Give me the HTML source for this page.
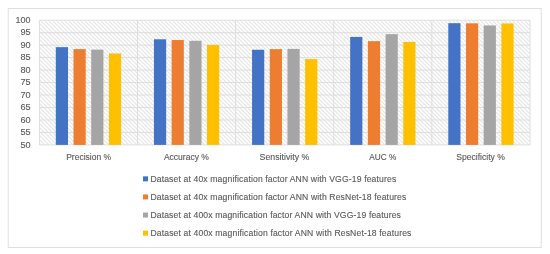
<!DOCTYPE html><html><head><meta charset="utf-8"><style>html,body{margin:0;padding:0;background:#fff;width:550px;height:254px;overflow:hidden}svg{display:block}text{font-family:"Liberation Sans",Arial,sans-serif;fill:#595959;stroke:#595959;stroke-width:0.12px}</style></head><body>
<svg width="550" height="254" viewBox="0 0 550 254">
<defs><filter id="b" x="-0.02" y="-0.02" width="1.04" height="1.04"><feGaussianBlur stdDeviation="0.45"/></filter><pattern id="h" width="4" height="4" patternUnits="userSpaceOnUse"><rect width="4" height="4" fill="#fff"/><path d="M-1,-1 L5,5 M-1,3 L1,5 M3,-1 L5,1" stroke="#e6e6e6" stroke-width="1.15"/></pattern></defs>
<rect x="8.2" y="8.5" width="533" height="239" fill="#fff" stroke="#dedede" stroke-width="1"/>
<g filter="url(#b)">
<rect x="38.4" y="19.2" width="492.60" height="126.70" fill="#fff"/>
<rect x="39.4" y="20.2" width="490.60" height="124.70" fill="url(#h)"/>
<line x1="39.4" x2="530.0" y1="20.20" y2="20.20" stroke="#dedede" stroke-width="1"/>
<line x1="39.4" x2="530.0" y1="32.67" y2="32.67" stroke="#dedede" stroke-width="1"/>
<line x1="39.4" x2="530.0" y1="45.14" y2="45.14" stroke="#dedede" stroke-width="1"/>
<line x1="39.4" x2="530.0" y1="57.61" y2="57.61" stroke="#dedede" stroke-width="1"/>
<line x1="39.4" x2="530.0" y1="70.08" y2="70.08" stroke="#dedede" stroke-width="1"/>
<line x1="39.4" x2="530.0" y1="82.55" y2="82.55" stroke="#dedede" stroke-width="1"/>
<line x1="39.4" x2="530.0" y1="95.02" y2="95.02" stroke="#dedede" stroke-width="1"/>
<line x1="39.4" x2="530.0" y1="107.49" y2="107.49" stroke="#dedede" stroke-width="1"/>
<line x1="39.4" x2="530.0" y1="119.96" y2="119.96" stroke="#dedede" stroke-width="1"/>
<line x1="39.4" x2="530.0" y1="132.43" y2="132.43" stroke="#dedede" stroke-width="1"/>
<line x1="39.4" x2="530.0" y1="144.90" y2="144.90" stroke="#dedede" stroke-width="1"/>
<line x1="39.40" x2="39.40" y1="20.2" y2="144.9" stroke="#dedede" stroke-width="1"/>
<line x1="137.52" x2="137.52" y1="20.2" y2="144.9" stroke="#dedede" stroke-width="1"/>
<line x1="235.64" x2="235.64" y1="20.2" y2="144.9" stroke="#dedede" stroke-width="1"/>
<line x1="333.76" x2="333.76" y1="20.2" y2="144.9" stroke="#dedede" stroke-width="1"/>
<line x1="431.88" x2="431.88" y1="20.2" y2="144.9" stroke="#dedede" stroke-width="1"/>
<line x1="530.00" x2="530.00" y1="20.2" y2="144.9" stroke="#dedede" stroke-width="1"/>
</g>
<rect x="55.81" y="47.14" width="12.2" height="97.76" fill="#4472C4"/>
<rect x="73.51" y="49.13" width="12.2" height="95.77" fill="#ED7D31"/>
<rect x="91.21" y="49.63" width="12.2" height="95.27" fill="#A5A5A5"/>
<rect x="108.91" y="53.49" width="12.2" height="91.41" fill="#FFC000"/>
<rect x="153.93" y="39.28" width="12.2" height="105.62" fill="#4472C4"/>
<rect x="171.63" y="40.03" width="12.2" height="104.87" fill="#ED7D31"/>
<rect x="189.33" y="40.78" width="12.2" height="104.12" fill="#A5A5A5"/>
<rect x="207.03" y="44.89" width="12.2" height="100.01" fill="#FFC000"/>
<rect x="252.05" y="49.75" width="12.2" height="95.15" fill="#4472C4"/>
<rect x="269.75" y="49.13" width="12.2" height="95.77" fill="#ED7D31"/>
<rect x="287.45" y="48.88" width="12.2" height="96.02" fill="#A5A5A5"/>
<rect x="305.15" y="59.11" width="12.2" height="85.79" fill="#FFC000"/>
<rect x="350.17" y="36.91" width="12.2" height="107.99" fill="#4472C4"/>
<rect x="367.87" y="41.15" width="12.2" height="103.75" fill="#ED7D31"/>
<rect x="385.57" y="34.17" width="12.2" height="110.73" fill="#A5A5A5"/>
<rect x="403.27" y="41.90" width="12.2" height="103.00" fill="#FFC000"/>
<rect x="448.29" y="23.19" width="12.2" height="121.71" fill="#4472C4"/>
<rect x="465.99" y="23.32" width="12.2" height="121.58" fill="#ED7D31"/>
<rect x="483.69" y="25.44" width="12.2" height="119.46" fill="#A5A5A5"/>
<rect x="501.39" y="23.44" width="12.2" height="121.46" fill="#FFC000"/>
<text x="30.6" y="22.90" font-size="9.4" text-anchor="end" textLength="15.0" lengthAdjust="spacingAndGlyphs">100</text>
<text x="30.6" y="35.37" font-size="9.4" text-anchor="end" textLength="10.2" lengthAdjust="spacingAndGlyphs">95</text>
<text x="30.6" y="47.84" font-size="9.4" text-anchor="end" textLength="10.2" lengthAdjust="spacingAndGlyphs">90</text>
<text x="30.6" y="60.31" font-size="9.4" text-anchor="end" textLength="10.2" lengthAdjust="spacingAndGlyphs">85</text>
<text x="30.6" y="72.78" font-size="9.4" text-anchor="end" textLength="10.2" lengthAdjust="spacingAndGlyphs">80</text>
<text x="30.6" y="85.25" font-size="9.4" text-anchor="end" textLength="10.2" lengthAdjust="spacingAndGlyphs">75</text>
<text x="30.6" y="97.72" font-size="9.4" text-anchor="end" textLength="10.2" lengthAdjust="spacingAndGlyphs">70</text>
<text x="30.6" y="110.19" font-size="9.4" text-anchor="end" textLength="10.2" lengthAdjust="spacingAndGlyphs">65</text>
<text x="30.6" y="122.66" font-size="9.4" text-anchor="end" textLength="10.2" lengthAdjust="spacingAndGlyphs">60</text>
<text x="30.6" y="135.13" font-size="9.4" text-anchor="end" textLength="10.2" lengthAdjust="spacingAndGlyphs">55</text>
<text x="30.6" y="147.60" font-size="9.4" text-anchor="end" textLength="10.2" lengthAdjust="spacingAndGlyphs">50</text>
<text x="66.20" y="160.3" font-size="8.6" textLength="45.00" lengthAdjust="spacingAndGlyphs">Precision %</text>
<text x="163.90" y="160.3" font-size="8.6" textLength="45.00" lengthAdjust="spacingAndGlyphs">Accuracy %</text>
<text x="259.60" y="160.3" font-size="8.6" textLength="49.70" lengthAdjust="spacingAndGlyphs">Sensitivity %</text>
<text x="369.20" y="160.3" font-size="8.6" textLength="27.10" lengthAdjust="spacingAndGlyphs">AUC %</text>
<text x="456.20" y="160.3" font-size="8.6" textLength="48.70" lengthAdjust="spacingAndGlyphs">Specificity %</text>
<rect x="143" y="176.35" width="5" height="5" fill="#4472C4"/>
<text x="150.40" y="181.75" font-size="8.6" textLength="245.80" lengthAdjust="spacing">Dataset at 40x magnification factor ANN with VGG-19 features</text>
<rect x="143" y="194.45" width="5" height="5" fill="#ED7D31"/>
<text x="150.40" y="199.85" font-size="8.6" textLength="255.90" lengthAdjust="spacing">Dataset at 40x magnification factor ANN with ResNet-18 features</text>
<rect x="143" y="212.55" width="5" height="5" fill="#A5A5A5"/>
<text x="150.40" y="217.95" font-size="8.6" textLength="250.50" lengthAdjust="spacing">Dataset at 400x magnification factor ANN with VGG-19 features</text>
<rect x="143" y="230.65" width="5" height="5" fill="#FFC000"/>
<text x="150.40" y="236.05" font-size="8.6" textLength="261.00" lengthAdjust="spacing">Dataset at 400x magnification factor ANN with ResNet-18 features</text>
</svg></body></html>
